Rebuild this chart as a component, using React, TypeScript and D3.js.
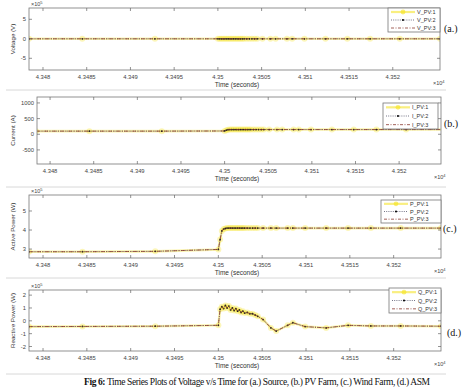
import * as React from 'react';
import * as d3 from 'd3';

// solver output time stamps, x 10^4 s (dense right after the 4.35 event)
const TIME = [
  4.34784, 4.34845, 4.34928, 4.35, 4.35002, 4.35004, 4.35006, 4.35008, 4.3501, 4.35012,
  4.35014, 4.35016, 4.35018, 4.3502, 4.35022, 4.35024, 4.35026, 4.35028, 4.3503, 4.35033,
  4.35036, 4.35039, 4.35042, 4.35045, 4.35051, 4.3506, 4.35066, 4.35079, 4.35085, 4.35099,
  4.35123, 4.35148, 4.35174, 4.35208, 4.35254,
];

// x 10^5 V
const VOLTAGE = [
  0, 0, 0, 0, 0, 0, 0, 0, 0, 0,
  0, 0, 0, 0, 0, 0, 0, 0, 0, 0,
  0, 0, 0, 0, 0, 0, 0, 0, 0, 0,
  0, 0, 0, 0, 0,
];

// A
const CURRENT = [
  100, 100, 100, 105, 130, 145, 150, 150, 150, 150,
  150, 150, 150, 150, 150, 150, 150, 150, 150, 150,
  150, 150, 150, 150, 150, 150, 150, 150, 150, 150,
  150, 150, 150, 150, 150,
];

// x 10^5 W
const ACTIVE_POWER = [
  2.86, 2.86, 2.88, 2.98, 3.5, 3.95, 4.05, 4.08, 4.1, 4.1,
  4.1, 4.1, 4.1, 4.1, 4.1, 4.1, 4.1, 4.1, 4.1, 4.1,
  4.1, 4.1, 4.1, 4.1, 4.1, 4.1, 4.1, 4.1, 4.1, 4.1,
  4.1, 4.1, 4.1, 4.1, 4.1,
];

// x 10^5 W
const REACTIVE_POWER = [
  -0.45, -0.44, -0.42, -0.35, 0.9, 1.1, 0.95, 1.2, 1.0, 1.15,
  0.85, 1.0, 0.8, 0.95, 0.75, 0.85, 0.65, 0.75, 0.6, 0.65,
  0.55, 0.55, 0.45, 0.35, 0.1, -0.55, -0.8, -0.35, -0.15, -0.45,
  -0.55, -0.35, -0.4, -0.4, -0.42,
];

const X_TICKS = [4.348, 4.3485, 4.349, 4.3495, 4.35, 4.3505, 4.351, 4.3515, 4.352];
const X_TICK_LABELS = ['4.348', '4.3485', '4.349', '4.3495', '4.35', '4.3505', '4.351', '4.3515', '4.352'];

const VOLTAGE_TICKS = [-5, 0, 5];
const CURRENT_TICKS = [-500, 0, 500, 1000];
const ACTIVE_TICKS = [3, 4, 5];
const REACTIVE_TICKS = [-2, -1, 0, 1, 2];

const VOLTAGE_SERIES = ['V_PV:1', 'V_PV:2', 'V_PV:3'];
const CURRENT_SERIES = ['I_PV:1', 'I_PV:2', 'I_PV:3'];
const ACTIVE_SERIES = ['P_PV:1', 'P_PV:2', 'P_PV:3'];
const REACTIVE_SERIES = ['Q_PV:1', 'Q_PV:2', 'Q_PV:3'];

const FONT = '"Liberation Sans", Arial, sans-serif';
const SERIF = '"Liberation Serif", "Times New Roman", serif';
const YELLOW = '#f5e21a';
const DOTTED = '#3b3b55';
const DASHDOT = '#8a3a30';

interface PanelSpec {
  key: string;
  values: number[];
  names: string[];
  yTicks: number[];
  yLabel: string;
  exponent: boolean;
  tag: string;
  left: number;
  right: number;
  top: number;
  bottom: number;
  xDomain: [number, number];
  yDomain: [number, number];
  legend: { x: number; y: number; w: number; h: number };
  tagPos: [number, number];
}

const PANELS: PanelSpec[] = [
  {
    key: 'a', values: VOLTAGE, names: VOLTAGE_SERIES, yTicks: VOLTAGE_TICKS,
    yLabel: 'Voltage (V)', exponent: true, tag: '(a.)',
    left: 29, right: 440, top: 8, bottom: 70,
    xDomain: [4.34784, 4.35254], yDomain: [-8, 7.9],
    legend: { x: 388, y: 8, w: 52, h: 24 }, tagPos: [444, 32],
  },
  {
    key: 'b', values: CURRENT, names: CURRENT_SERIES, yTicks: CURRENT_TICKS,
    yLabel: 'Current (A)', exponent: false, tag: '(b.)',
    left: 37, right: 441, top: 97, bottom: 164,
    xDomain: [4.34785, 4.35248], yDomain: [-950, 1190],
    legend: { x: 383, y: 103, w: 55, h: 26 }, tagPos: [444, 127],
  },
  {
    key: 'c', values: ACTIVE_POWER, names: ACTIVE_SERIES, yTicks: ACTIVE_TICKS,
    yLabel: 'Active Power (W)', exponent: true, tag: '(c.)',
    left: 29, right: 441, top: 195, bottom: 258,
    xDomain: [4.34784, 4.35254], yDomain: [2.53, 5.84],
    legend: { x: 381, y: 200, w: 60, h: 23 }, tagPos: [443, 232],
  },
  {
    key: 'd', values: REACTIVE_POWER, names: REACTIVE_SERIES, yTicks: REACTIVE_TICKS,
    yLabel: 'Reactive Power (W)', exponent: true, tag: '(d.)',
    left: 29, right: 441, top: 290, bottom: 351,
    xDomain: [4.34784, 4.35254], yDomain: [-2.35, 2.4],
    legend: { x: 389, y: 288, w: 52, h: 25 }, tagPos: [447, 336],
  },
];

const SEPARATORS = [90, 187, 278, 374];

function Legend({ spec }: { spec: PanelSpec }) {
  const { x, y, w, h } = spec.legend;
  const rowH = h / 3;
  return (
    <g>
      <rect x={x} y={y} width={w} height={h} fill="#fff" stroke="#777" strokeWidth={0.8} />
      {spec.names.map((name, i) => {
        const cy = y + rowH * (i + 0.5);
        const x0 = x + 3;
        const x1 = x + 27;
        const mx = (x0 + x1) / 2;
        return (
          <g key={name}>
            {i === 0 && (
              <>
                <line x1={x0} x2={x1} y1={cy} y2={cy} stroke={YELLOW} strokeWidth={2.2} opacity={0.55} />
                <circle cx={mx} cy={cy} r={2.4} fill={YELLOW} opacity={0.6} />
              </>
            )}
            {i === 1 && (
              <>
                <line x1={x0} x2={x1} y1={cy} y2={cy} stroke={DOTTED} strokeWidth={0.7} strokeDasharray="1,1.2" />
                <circle cx={mx} cy={cy} r={1.1} fill="#111" />
              </>
            )}
            {i === 2 && (
              <line x1={x0} x2={x1} y1={cy} y2={cy} stroke={DASHDOT} strokeWidth={0.8} strokeDasharray="3,1.5,1,1.5" />
            )}
            <text x={x + 29} y={cy + 2} fontSize={5.5} fill="#333" fontFamily={FONT}>{name}</text>
          </g>
        );
      })}
    </g>
  );
}

function Panel({ spec }: { spec: PanelSpec }) {
  const x = d3.scaleLinear().domain(spec.xDomain).range([spec.left, spec.right]);
  const y = d3.scaleLinear().domain(spec.yDomain).range([spec.bottom, spec.top]);
  const line = d3
    .line<number>()
    .x((_, i) => x(TIME[i]))
    .y((d) => y(d));
  const path = line(spec.values) || '';
  const clipId = `clip-${spec.key}`;
  const tick = 3;
  const midY = (spec.top + spec.bottom) / 2;

  return (
    <g>
      <defs>
        <clipPath id={clipId}>
          <rect x={spec.left} y={spec.top} width={spec.right - spec.left} height={spec.bottom - spec.top} />
        </clipPath>
      </defs>

      {/* series */}
      <g clipPath={`url(#${clipId})`}>
        <path d={path} fill="none" stroke={YELLOW} strokeWidth={2.6} opacity={0.35} />
        {spec.values.map((v, i) => (
          <circle key={`m1-${i}`} cx={x(TIME[i])} cy={y(v)} r={3} fill={YELLOW} opacity={0.3} />
        ))}
        <path d={path} fill="none" stroke={DOTTED} strokeWidth={0.7} strokeDasharray="1,1.2" />
        {spec.values.map((v, i) => (
          <circle key={`m2-${i}`} cx={x(TIME[i])} cy={y(v)} r={0.9} fill="#222" />
        ))}
        <path d={path} fill="none" stroke={DASHDOT} strokeWidth={0.8} strokeDasharray="4,1.5,1,1.5" />
      </g>

      {/* box */}
      <rect x={spec.left} y={spec.top} width={spec.right - spec.left} height={spec.bottom - spec.top}
        fill="none" stroke="#777" strokeWidth={0.8} />

      {/* x ticks (bottom + top, inward) */}
      {X_TICKS.map((t, i) => (
        <g key={`xt-${i}`}>
          <line x1={x(t)} x2={x(t)} y1={spec.bottom} y2={spec.bottom - tick} stroke="#666" strokeWidth={0.7} />
          <line x1={x(t)} x2={x(t)} y1={spec.top} y2={spec.top + tick} stroke="#666" strokeWidth={0.7} />
          <text x={x(t)} y={spec.bottom + 9} fontSize={5.8} fill="#444" textAnchor="middle" fontFamily={FONT}>
            {X_TICK_LABELS[i]}
          </text>
        </g>
      ))}

      {/* y ticks (left + right, inward) */}
      {spec.yTicks.map((t) => (
        <g key={`yt-${t}`}>
          <line x1={spec.left} x2={spec.left + tick} y1={y(t)} y2={y(t)} stroke="#666" strokeWidth={0.7} />
          <line x1={spec.right} x2={spec.right - tick} y1={y(t)} y2={y(t)} stroke="#666" strokeWidth={0.7} />
          <text x={spec.left - 3} y={y(t) + 2} fontSize={5.8} fill="#444" textAnchor="end" fontFamily={FONT}>
            {t}
          </text>
        </g>
      ))}

      {spec.exponent && (
        <text x={spec.left + 2} y={spec.top - 2} fontSize={5.5} fill="#444" fontFamily={FONT}>
          ×10<tspan dy={-2} fontSize={4}>5</tspan>
        </text>
      )}

      <text x={spec.right - 7} y={spec.bottom + 15} fontSize={5.5} fill="#444" fontFamily={FONT}>
        ×10<tspan dy={-2} fontSize={4}>4</tspan>
      </text>

      <text x={237} y={spec.bottom + 17} fontSize={6.5} fill="#333" textAnchor="middle" fontFamily={FONT}>
        Time (seconds)
      </text>

      <text transform={`translate(15,${midY}) rotate(-90)`} fontSize={6.2} fill="#333" textAnchor="middle"
        fontFamily={FONT}>
        {spec.yLabel}
      </text>

      <Legend spec={spec} />

      <text x={spec.tagPos[0]} y={spec.tagPos[1]} fontSize={10} fill="#111" fontFamily={SERIF}>{spec.tag}</text>
    </g>
  );
}

export default function App() {
  return (
    <svg width={474} height={387} viewBox="0 0 474 387"
      style={{ position: 'absolute', left: 0, top: 0, background: '#fff' }}>
      <rect width={474} height={387} fill="#fff" />
      {SEPARATORS.map((sy) => (
        <line key={sy} x1={6} x2={446} y1={sy} y2={sy} stroke="#d8d8d8" strokeWidth={1} />
      ))}
      {PANELS.map((p) => (
        <Panel key={p.key} spec={p} />
      ))}
      <text x={84} y={385} fontSize={9.5} fill="#111" fontFamily={SERIF} textLength={346} lengthAdjust="spacing">
        <tspan fontWeight="bold">Fig 6:</tspan> Time Series Plots of Voltage v/s Time for (a.) Source, (b.) PV Farm, (c.) Wind Farm, (d.) ASM
      </text>
    </svg>
  );
}
